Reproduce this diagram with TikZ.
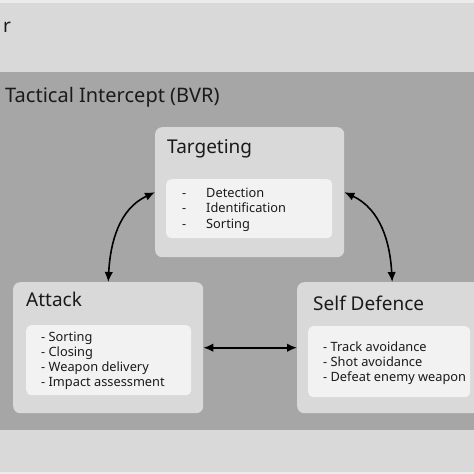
\documentclass[tikz,border=0pt]{standalone}
\usepackage{fontspec}
\setmainfont{Noto Sans}
\usetikzlibrary{arrows.meta}
\definecolor{bglight}{HTML}{D9D9D9}
\definecolor{bgdark}{HTML}{A6A6A6}
\definecolor{boxgray}{HTML}{D9D9D9}
\definecolor{innergray}{HTML}{F2F2F2}
\definecolor{edgewhite}{HTML}{EBEBEB}
\definecolor{txt}{HTML}{1A1A1A}
\tikzset{
  outerbox/.style={fill=boxgray, draw=none, rounded corners=7pt, inner sep=0pt, anchor=north west},
  innerbox/.style={fill=innergray, draw=none, rounded corners=5pt, inner sep=0pt, anchor=north west},
  titletext/.style={anchor=base west, inner sep=0pt, text=txt, font=\fontsize{19}{22}\selectfont},
  itemtext/.style={anchor=base west, inner sep=0pt, text=txt, font=\fontsize{12.8}{15}\selectfont},
  conn/.style={{Latex[length=10pt,width=8.5pt]}-{Latex[length=10pt,width=8.5pt]}, line width=1.6pt, black}
}
\begin{document}
\begin{tikzpicture}[x=1pt,y=1pt]
\useasboundingbox (0,0) rectangle (474,-474);
% bands
\fill[bglight] (0,0) rectangle (474,-474);
\fill[edgewhite] (0,0) rectangle (474,-3);
\fill[edgewhite] (0,-472) rectangle (474,-474);
\fill[bgdark] (0,-72) rectangle (474,-430);
\node[titletext] (topr) at (3,-32) {r};
\node[titletext, font=\fontsize{20}{23}\selectfont] (frame) at (5,-102) {Tactical Intercept (BVR)};
% Targeting
\node[outerbox, minimum width=189pt, minimum height=130pt] (tgt) at (155,-127) {};
\node[innerbox, minimum width=166pt, minimum height=59pt] (tgtin) at (166,-179) {};
\node[titletext] (tgtt) at (167,-153) {Targeting};
\node[itemtext] (td1) at (182,-197) {-};
\node[itemtext] (tt1) at (206,-197) {Detection};
\node[itemtext] (td2) at (182,-212.5) {-};
\node[itemtext] (tt2) at (206,-212.5) {Identification};
\node[itemtext] (td3) at (182,-228) {-};
\node[itemtext] (tt3) at (206,-228) {Sorting};
% Attack
\node[outerbox, minimum width=190pt, minimum height=131pt] (att) at (13,-282) {};
\node[innerbox, minimum width=165pt, minimum height=70pt] (attin) at (26,-325) {};
\node[titletext] (attt) at (26,-306) {Attack};
\node[itemtext] (a1) at (41,-341) {- Sorting};
\node[itemtext] (a2) at (41,-356) {- Closing};
\node[itemtext] (a3) at (41,-371) {- Weapon delivery};
\node[itemtext] (a4) at (41,-386) {- Impact assessment};
% Self Defence
\node[outerbox, minimum width=190pt, minimum height=131pt] (sd) at (297,-282) {};
\node[innerbox, minimum width=162pt, minimum height=71pt] (sdin) at (308,-326) {};
\node[titletext] (sdt) at (313,-310) {Self Defence};
\node[itemtext] (s1) at (323,-351) {- Track avoidance};
\node[itemtext] (s2) at (323,-366) {- Shot avoidance};
\node[itemtext] (s3) at (323,-381) {- Defeat enemy weapon};
% connectors
\draw[conn] (att.north) to[out=87, in=205] (tgt.west);
\draw[conn] (tgt.east) to[out=-25, in=93] (sd.north);
\draw[conn] (att.east) -- (sd.west);
\end{tikzpicture}
\end{document}
